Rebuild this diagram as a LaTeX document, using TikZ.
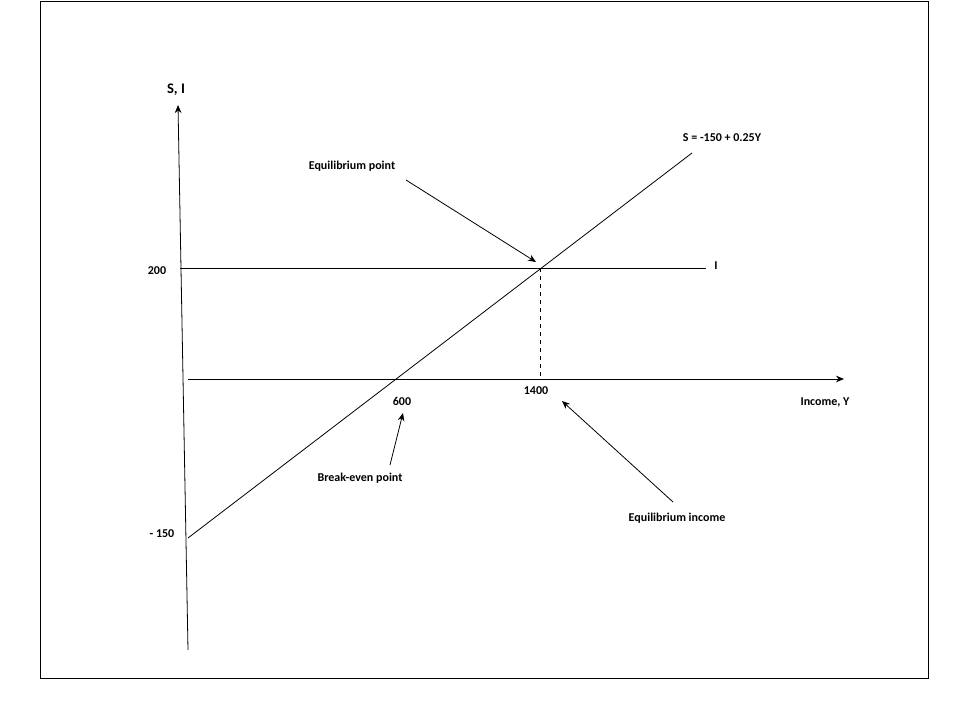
\documentclass[tikz,border=0pt]{standalone}
\usepackage{fontspec}
\usetikzlibrary{arrows.meta}
\setmainfont{Carlito}
\begin{document}
\begin{tikzpicture}[x=0.75pt,y=-0.75pt,
  lbl/.style={font=\fontsize{9}{11}\selectfont\bfseries,inner sep=0pt},
  ln/.style={line width=0.6pt},
  arr/.style={ln,-{Stealth[length=6pt,width=5pt]}}]
\useasboundingbox (0,0) rectangle (960,720);
\draw[ln] (40,1) rectangle (928,678);
\coordinate (ya) at (188,650); \coordinate (yb) at (178,105);
\draw[arr] (ya) -- (yb);
\node[lbl,font=\fontsize{11}{13}\selectfont\bfseries] (sl) at (176,90) {S, I};
\coordinate (xa) at (188,379); \coordinate (xb) at (844,379);
\draw[arr] (xa) -- (xb);
\node[lbl] (inc) at (825,402) {Income, Y};
\coordinate (ia) at (180,268); \coordinate (ib) at (706,268);
\draw[ln] (ia) -- (ib);
\node[lbl] (il) at (716,266) {I};
\coordinate (sa) at (188,538); \coordinate (sb) at (692,153);
\draw[ln] (sa) -- (sb);
\node[lbl] (sf) at (722,138) {S = -150 + 0.25Y};
\coordinate (eq) at (540,268); \coordinate (eqd) at (540,376);
\draw[ln,dashed] (eq) -- (eqd);
\node[lbl] (t200) at (157,271) {200};
\node[lbl] (t150) at (162,534) {- 150};
\node[lbl] (t600) at (402,401) {600};
\node[lbl] (t1400) at (536,391) {1400};
\node[lbl] (ep) at (352,166) {Equilibrium point};
\node[lbl] (be) at (360,478) {Break-even point};
\node[lbl] (ei) at (677,518) {Equilibrium income};
\coordinate (epa) at (406,180); \coordinate (epb) at (536,262);
\draw[arr] (epa) -- (epb);
\coordinate (bea) at (390,465); \coordinate (beb) at (403,413);
\draw[arr] (bea) -- (beb);
\coordinate (eia) at (673,502); \coordinate (eib) at (562,401);
\draw[arr] (eia) -- (eib);
\end{tikzpicture}
\end{document}
